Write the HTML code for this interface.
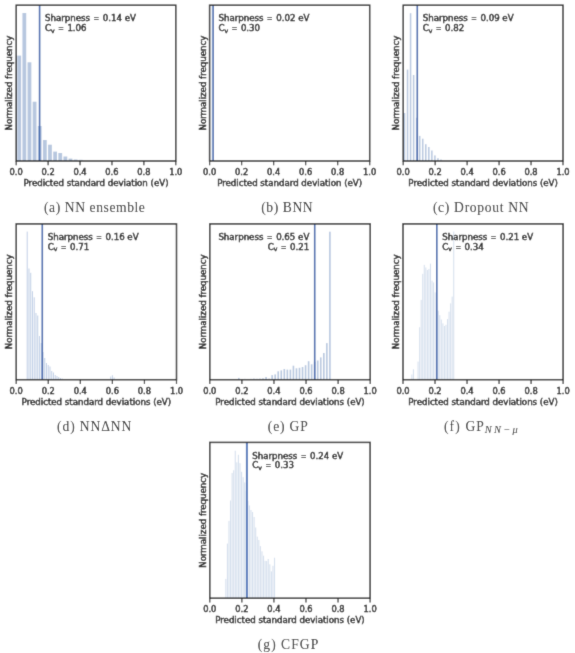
<!DOCTYPE html>
<html><head><meta charset="utf-8"><title>Predicted standard deviation histograms</title>
<style>
html,body{margin:0;padding:0;background:#fff;}
svg{display:block;}
.t{font-family:"DejaVu Sans","Liberation Sans",sans-serif;font-size:8.65px;fill:#111;stroke:#111;stroke-width:0.45px;}
.c{font-family:"Liberation Serif","DejaVu Serif",serif;font-size:13.6px;fill:#151515;}
</style></head><body>
<svg width="575" height="653" viewBox="0 0 575 653">
<defs><filter id="bl" x="0" y="0" width="100%" height="100%"><feConvolveMatrix order="3" kernelMatrix="0.02 0.085 0.02 0.085 0.58 0.085 0.02 0.085 0.02" divisor="1" edgeMode="duplicate" preserveAlpha="false"/></filter></defs>
<g filter="url(#bl)">
<rect width="575" height="653" fill="#fff"/>
<rect x="17.30" y="55.60" width="3.80" height="105.40" fill="#b7c7df"/>
<rect x="22.43" y="13.00" width="3.80" height="148.00" fill="#b7c7df"/>
<rect x="27.56" y="62.30" width="3.80" height="98.70" fill="#b7c7df"/>
<rect x="32.69" y="101.70" width="3.80" height="59.30" fill="#b7c7df"/>
<rect x="37.82" y="126.00" width="3.80" height="35.00" fill="#b7c7df"/>
<rect x="42.95" y="140.00" width="3.80" height="21.00" fill="#b7c7df"/>
<rect x="48.08" y="144.70" width="3.80" height="16.30" fill="#b7c7df"/>
<rect x="53.21" y="151.60" width="3.80" height="9.40" fill="#b7c7df"/>
<rect x="58.34" y="153.00" width="3.80" height="8.00" fill="#b7c7df"/>
<rect x="63.47" y="156.50" width="3.80" height="4.50" fill="#b7c7df"/>
<rect x="68.60" y="158.60" width="3.80" height="2.40" fill="#b7c7df"/>
<rect x="73.73" y="159.50" width="3.80" height="1.50" fill="#b7c7df"/>
<rect x="78.86" y="159.80" width="3.80" height="1.20" fill="#b7c7df"/>
<line x1="39.60" y1="5.20" x2="39.60" y2="161.00" stroke="#3f67ad" stroke-width="1.6"/>
<rect x="16.20" y="5.20" width="159.60" height="155.80" fill="none" stroke="#262626" stroke-width="1.5"/>
<line x1="16.20" y1="161.00" x2="16.20" y2="165.30" stroke="#262626" stroke-width="1.2"/>
<text x="16.20" y="175.00" text-anchor="middle" class="t" style="font-size:8.3px">0.0</text>
<line x1="48.12" y1="161.00" x2="48.12" y2="165.30" stroke="#262626" stroke-width="1.2"/>
<text x="48.12" y="175.00" text-anchor="middle" class="t" style="font-size:8.3px">0.2</text>
<line x1="80.04" y1="161.00" x2="80.04" y2="165.30" stroke="#262626" stroke-width="1.2"/>
<text x="80.04" y="175.00" text-anchor="middle" class="t" style="font-size:8.3px">0.4</text>
<line x1="111.96" y1="161.00" x2="111.96" y2="165.30" stroke="#262626" stroke-width="1.2"/>
<text x="111.96" y="175.00" text-anchor="middle" class="t" style="font-size:8.3px">0.6</text>
<line x1="143.88" y1="161.00" x2="143.88" y2="165.30" stroke="#262626" stroke-width="1.2"/>
<text x="143.88" y="175.00" text-anchor="middle" class="t" style="font-size:8.3px">0.8</text>
<line x1="175.80" y1="161.00" x2="175.80" y2="165.30" stroke="#262626" stroke-width="1.2"/>
<text x="175.80" y="175.00" text-anchor="middle" class="t" style="font-size:8.3px">1.0</text>
<text x="96.00" y="185.80" text-anchor="middle" class="t">Predicted standard deviation (eV)</text>
<text transform="translate(12.30,83.10) rotate(-90)" text-anchor="middle" class="t">Normalized frequency</text>
<text x="45.00" y="21.40" text-anchor="start" class="t">Sharpness <tspan dx="0.85" textLength="5.5" lengthAdjust="spacingAndGlyphs">=</tspan><tspan dx="0.9"> 0.14 eV</tspan></text>
<text x="45.00" y="30.80" text-anchor="start" class="t">C<tspan font-size="6.1" dy="1.9">v</tspan><tspan dy="-1.9"> </tspan><tspan dx="0.85" textLength="5.5" lengthAdjust="spacingAndGlyphs">=</tspan><tspan dx="0.9"> 1.06</tspan></text>
<text x="44.00" y="212.00" textLength="100.90" lengthAdjust="spacing" class="c">(a) NN ensemble</text>

<rect x="210.50" y="5.80" width="1.60" height="155.20" fill="#eef2f8"/>
<line x1="213.10" y1="5.20" x2="213.10" y2="161.00" stroke="#3f67ad" stroke-width="1.6"/>
<rect x="209.60" y="5.20" width="160.10" height="155.80" fill="none" stroke="#262626" stroke-width="1.5"/>
<line x1="209.60" y1="161.00" x2="209.60" y2="165.30" stroke="#262626" stroke-width="1.2"/>
<text x="209.60" y="175.00" text-anchor="middle" class="t" style="font-size:8.3px">0.0</text>
<line x1="241.62" y1="161.00" x2="241.62" y2="165.30" stroke="#262626" stroke-width="1.2"/>
<text x="241.62" y="175.00" text-anchor="middle" class="t" style="font-size:8.3px">0.2</text>
<line x1="273.64" y1="161.00" x2="273.64" y2="165.30" stroke="#262626" stroke-width="1.2"/>
<text x="273.64" y="175.00" text-anchor="middle" class="t" style="font-size:8.3px">0.4</text>
<line x1="305.66" y1="161.00" x2="305.66" y2="165.30" stroke="#262626" stroke-width="1.2"/>
<text x="305.66" y="175.00" text-anchor="middle" class="t" style="font-size:8.3px">0.6</text>
<line x1="337.68" y1="161.00" x2="337.68" y2="165.30" stroke="#262626" stroke-width="1.2"/>
<text x="337.68" y="175.00" text-anchor="middle" class="t" style="font-size:8.3px">0.8</text>
<line x1="369.70" y1="161.00" x2="369.70" y2="165.30" stroke="#262626" stroke-width="1.2"/>
<text x="369.70" y="175.00" text-anchor="middle" class="t" style="font-size:8.3px">1.0</text>
<text x="289.65" y="185.80" text-anchor="middle" class="t">Predicted standard deviation (eV)</text>
<text transform="translate(205.70,83.10) rotate(-90)" text-anchor="middle" class="t">Normalized frequency</text>
<text x="218.50" y="21.40" text-anchor="start" class="t">Sharpness <tspan dx="0.85" textLength="5.5" lengthAdjust="spacingAndGlyphs">=</tspan><tspan dx="0.9"> 0.02 eV</tspan></text>
<text x="218.50" y="30.80" text-anchor="start" class="t">C<tspan font-size="6.1" dy="1.9">v</tspan><tspan dy="-1.9"> </tspan><tspan dx="0.85" textLength="5.5" lengthAdjust="spacingAndGlyphs">=</tspan><tspan dx="0.9"> 0.30</tspan></text>
<text x="261.20" y="212.00" textLength="51.50" lengthAdjust="spacing" class="c">(b) BNN</text>

<rect x="403.75" y="113.00" width="1.50" height="48.00" fill="#b7c7df"/>
<rect x="406.79" y="69.60" width="1.50" height="91.40" fill="#b7c7df"/>
<rect x="409.83" y="13.20" width="1.50" height="147.80" fill="#b7c7df"/>
<rect x="412.87" y="75.00" width="1.50" height="86.00" fill="#b7c7df"/>
<rect x="415.91" y="117.80" width="1.50" height="43.20" fill="#b7c7df"/>
<rect x="418.95" y="135.90" width="1.50" height="25.10" fill="#b7c7df"/>
<rect x="421.99" y="138.70" width="1.50" height="22.30" fill="#b7c7df"/>
<rect x="425.03" y="144.20" width="1.50" height="16.80" fill="#b7c7df"/>
<rect x="428.07" y="147.00" width="1.50" height="14.00" fill="#b7c7df"/>
<rect x="431.11" y="150.50" width="1.50" height="10.50" fill="#b7c7df"/>
<rect x="434.15" y="155.40" width="1.50" height="5.60" fill="#b7c7df"/>
<rect x="437.19" y="158.20" width="1.50" height="2.80" fill="#b7c7df"/>
<rect x="440.23" y="159.50" width="1.50" height="1.50" fill="#b7c7df"/>
<line x1="417.30" y1="5.20" x2="417.30" y2="161.00" stroke="#3f67ad" stroke-width="1.6"/>
<rect x="403.20" y="5.20" width="159.80" height="155.80" fill="none" stroke="#262626" stroke-width="1.5"/>
<line x1="403.20" y1="161.00" x2="403.20" y2="165.30" stroke="#262626" stroke-width="1.2"/>
<text x="403.20" y="175.00" text-anchor="middle" class="t" style="font-size:8.3px">0.0</text>
<line x1="435.16" y1="161.00" x2="435.16" y2="165.30" stroke="#262626" stroke-width="1.2"/>
<text x="435.16" y="175.00" text-anchor="middle" class="t" style="font-size:8.3px">0.2</text>
<line x1="467.12" y1="161.00" x2="467.12" y2="165.30" stroke="#262626" stroke-width="1.2"/>
<text x="467.12" y="175.00" text-anchor="middle" class="t" style="font-size:8.3px">0.4</text>
<line x1="499.08" y1="161.00" x2="499.08" y2="165.30" stroke="#262626" stroke-width="1.2"/>
<text x="499.08" y="175.00" text-anchor="middle" class="t" style="font-size:8.3px">0.6</text>
<line x1="531.04" y1="161.00" x2="531.04" y2="165.30" stroke="#262626" stroke-width="1.2"/>
<text x="531.04" y="175.00" text-anchor="middle" class="t" style="font-size:8.3px">0.8</text>
<line x1="563.00" y1="161.00" x2="563.00" y2="165.30" stroke="#262626" stroke-width="1.2"/>
<text x="563.00" y="175.00" text-anchor="middle" class="t" style="font-size:8.3px">1.0</text>
<text x="483.10" y="185.80" text-anchor="middle" class="t">Predicted standard deviations (eV)</text>
<text transform="translate(399.30,83.10) rotate(-90)" text-anchor="middle" class="t">Normalized frequency</text>
<text x="422.70" y="21.40" text-anchor="start" class="t">Sharpness <tspan dx="0.85" textLength="5.5" lengthAdjust="spacingAndGlyphs">=</tspan><tspan dx="0.9"> 0.09 eV</tspan></text>
<text x="422.70" y="30.80" text-anchor="start" class="t">C<tspan font-size="6.1" dy="1.9">v</tspan><tspan dy="-1.9"> </tspan><tspan dx="0.85" textLength="5.5" lengthAdjust="spacingAndGlyphs">=</tspan><tspan dx="0.9"> 0.82</tspan></text>
<text x="432.90" y="212.00" textLength="95.70" lengthAdjust="spacing" class="c">(c) Dropout NN</text>

<rect x="26.70" y="231.60" width="1.05" height="148.10" fill="#c3d1e7"/>
<rect x="28.45" y="268.50" width="1.05" height="111.20" fill="#c3d1e7"/>
<rect x="30.20" y="272.80" width="1.05" height="106.90" fill="#c3d1e7"/>
<rect x="31.95" y="291.20" width="1.05" height="88.50" fill="#c3d1e7"/>
<rect x="33.70" y="297.30" width="1.05" height="82.40" fill="#c3d1e7"/>
<rect x="35.45" y="313.00" width="1.05" height="66.70" fill="#c3d1e7"/>
<rect x="37.20" y="315.50" width="1.05" height="64.20" fill="#c3d1e7"/>
<rect x="38.95" y="336.00" width="1.05" height="43.70" fill="#c3d1e7"/>
<rect x="40.70" y="343.00" width="1.05" height="36.70" fill="#c3d1e7"/>
<rect x="42.45" y="352.00" width="1.05" height="27.70" fill="#c3d1e7"/>
<rect x="44.20" y="358.00" width="1.05" height="21.70" fill="#c3d1e7"/>
<rect x="45.95" y="363.00" width="1.05" height="16.70" fill="#c3d1e7"/>
<rect x="47.70" y="365.00" width="1.05" height="14.70" fill="#c3d1e7"/>
<rect x="49.45" y="366.50" width="1.05" height="13.20" fill="#c3d1e7"/>
<rect x="51.20" y="371.00" width="1.05" height="8.70" fill="#c3d1e7"/>
<rect x="52.95" y="372.50" width="1.05" height="7.20" fill="#c3d1e7"/>
<rect x="54.70" y="375.00" width="1.05" height="4.70" fill="#c3d1e7"/>
<rect x="56.45" y="376.00" width="1.05" height="3.70" fill="#c3d1e7"/>
<rect x="58.20" y="377.00" width="1.05" height="2.70" fill="#c3d1e7"/>
<rect x="59.95" y="378.00" width="1.05" height="1.70" fill="#c3d1e7"/>
<rect x="61.70" y="378.50" width="1.05" height="1.20" fill="#c3d1e7"/>
<rect x="63.45" y="379.00" width="1.05" height="0.70" fill="#c3d1e7"/>
<rect x="65.20" y="379.20" width="1.05" height="0.50" fill="#c3d1e7"/>
<rect x="110.20" y="376.50" width="1.00" height="3.20" fill="#c3d1e7"/>
<rect x="111.90" y="375.20" width="1.00" height="4.50" fill="#c3d1e7"/>
<rect x="113.60" y="377.50" width="1.00" height="2.20" fill="#c3d1e7"/>
<line x1="42.30" y1="223.90" x2="42.30" y2="379.70" stroke="#3f67ad" stroke-width="1.6"/>
<rect x="16.20" y="223.90" width="160.30" height="155.80" fill="none" stroke="#262626" stroke-width="1.5"/>
<line x1="16.20" y1="379.70" x2="16.20" y2="384.00" stroke="#262626" stroke-width="1.2"/>
<text x="16.20" y="393.70" text-anchor="middle" class="t" style="font-size:8.3px">0.0</text>
<line x1="48.26" y1="379.70" x2="48.26" y2="384.00" stroke="#262626" stroke-width="1.2"/>
<text x="48.26" y="393.70" text-anchor="middle" class="t" style="font-size:8.3px">0.2</text>
<line x1="80.32" y1="379.70" x2="80.32" y2="384.00" stroke="#262626" stroke-width="1.2"/>
<text x="80.32" y="393.70" text-anchor="middle" class="t" style="font-size:8.3px">0.4</text>
<line x1="112.38" y1="379.70" x2="112.38" y2="384.00" stroke="#262626" stroke-width="1.2"/>
<text x="112.38" y="393.70" text-anchor="middle" class="t" style="font-size:8.3px">0.6</text>
<line x1="144.44" y1="379.70" x2="144.44" y2="384.00" stroke="#262626" stroke-width="1.2"/>
<text x="144.44" y="393.70" text-anchor="middle" class="t" style="font-size:8.3px">0.8</text>
<line x1="176.50" y1="379.70" x2="176.50" y2="384.00" stroke="#262626" stroke-width="1.2"/>
<text x="176.50" y="393.70" text-anchor="middle" class="t" style="font-size:8.3px">1.0</text>
<text x="96.35" y="404.50" text-anchor="middle" class="t">Predicted standard deviations (eV)</text>
<text transform="translate(12.30,301.80) rotate(-90)" text-anchor="middle" class="t">Normalized frequency</text>
<text x="47.70" y="240.10" text-anchor="start" class="t">Sharpness <tspan dx="0.85" textLength="5.5" lengthAdjust="spacingAndGlyphs">=</tspan><tspan dx="0.9"> 0.16 eV</tspan></text>
<text x="47.70" y="249.50" text-anchor="start" class="t">C<tspan font-size="6.1" dy="1.9">v</tspan><tspan dy="-1.9"> </tspan><tspan dx="0.85" textLength="5.5" lengthAdjust="spacingAndGlyphs">=</tspan><tspan dx="0.9"> 0.71</tspan></text>
<text x="57.10" y="430.70" textLength="74.30" lengthAdjust="spacing" class="c">(d) NN&#916;NN</text>

<rect x="329.10" y="231.70" width="1.60" height="148.00" fill="#b7c7df"/>
<rect x="326.06" y="343.10" width="1.60" height="36.60" fill="#b7c7df"/>
<rect x="323.02" y="353.00" width="1.60" height="26.70" fill="#b7c7df"/>
<rect x="319.98" y="357.40" width="1.60" height="22.30" fill="#b7c7df"/>
<rect x="316.94" y="360.50" width="1.60" height="19.20" fill="#b7c7df"/>
<rect x="313.90" y="361.70" width="1.60" height="18.00" fill="#b7c7df"/>
<rect x="310.86" y="364.30" width="1.60" height="15.40" fill="#b7c7df"/>
<rect x="307.82" y="361.20" width="1.60" height="18.50" fill="#b7c7df"/>
<rect x="304.78" y="365.20" width="1.60" height="14.50" fill="#b7c7df"/>
<rect x="301.74" y="367.00" width="1.60" height="12.70" fill="#b7c7df"/>
<rect x="298.70" y="367.80" width="1.60" height="11.90" fill="#b7c7df"/>
<rect x="295.66" y="368.30" width="1.60" height="11.40" fill="#b7c7df"/>
<rect x="292.62" y="365.70" width="1.60" height="14.00" fill="#b7c7df"/>
<rect x="289.58" y="369.60" width="1.60" height="10.10" fill="#b7c7df"/>
<rect x="286.54" y="369.60" width="1.60" height="10.10" fill="#b7c7df"/>
<rect x="283.50" y="369.00" width="1.60" height="10.70" fill="#b7c7df"/>
<rect x="280.46" y="370.40" width="1.60" height="9.30" fill="#b7c7df"/>
<rect x="277.42" y="371.30" width="1.60" height="8.40" fill="#b7c7df"/>
<rect x="274.38" y="374.40" width="1.60" height="5.30" fill="#b7c7df"/>
<rect x="271.34" y="375.10" width="1.60" height="4.60" fill="#b7c7df"/>
<rect x="268.30" y="378.60" width="1.60" height="1.10" fill="#b7c7df"/>
<rect x="265.26" y="377.00" width="1.60" height="2.70" fill="#b7c7df"/>
<rect x="262.22" y="378.30" width="1.60" height="1.40" fill="#b7c7df"/>
<rect x="259.18" y="378.60" width="1.60" height="1.10" fill="#b7c7df"/>
<rect x="256.14" y="378.80" width="1.60" height="0.90" fill="#b7c7df"/>
<rect x="253.10" y="378.60" width="1.60" height="1.10" fill="#b7c7df"/>
<rect x="250.06" y="378.90" width="1.60" height="0.80" fill="#b7c7df"/>
<rect x="247.02" y="379.00" width="1.60" height="0.70" fill="#b7c7df"/>
<rect x="243.98" y="378.90" width="1.60" height="0.80" fill="#b7c7df"/>
<rect x="238.00" y="377.90" width="1.60" height="1.80" fill="#b7c7df"/>
<line x1="314.70" y1="223.90" x2="314.70" y2="379.70" stroke="#3f67ad" stroke-width="1.6"/>
<rect x="209.80" y="223.90" width="160.40" height="155.80" fill="none" stroke="#262626" stroke-width="1.5"/>
<line x1="209.80" y1="379.70" x2="209.80" y2="384.00" stroke="#262626" stroke-width="1.2"/>
<text x="209.80" y="393.70" text-anchor="middle" class="t" style="font-size:8.3px">0.0</text>
<line x1="241.88" y1="379.70" x2="241.88" y2="384.00" stroke="#262626" stroke-width="1.2"/>
<text x="241.88" y="393.70" text-anchor="middle" class="t" style="font-size:8.3px">0.2</text>
<line x1="273.96" y1="379.70" x2="273.96" y2="384.00" stroke="#262626" stroke-width="1.2"/>
<text x="273.96" y="393.70" text-anchor="middle" class="t" style="font-size:8.3px">0.4</text>
<line x1="306.04" y1="379.70" x2="306.04" y2="384.00" stroke="#262626" stroke-width="1.2"/>
<text x="306.04" y="393.70" text-anchor="middle" class="t" style="font-size:8.3px">0.6</text>
<line x1="338.12" y1="379.70" x2="338.12" y2="384.00" stroke="#262626" stroke-width="1.2"/>
<text x="338.12" y="393.70" text-anchor="middle" class="t" style="font-size:8.3px">0.8</text>
<line x1="370.20" y1="379.70" x2="370.20" y2="384.00" stroke="#262626" stroke-width="1.2"/>
<text x="370.20" y="393.70" text-anchor="middle" class="t" style="font-size:8.3px">1.0</text>
<text x="290.00" y="404.50" text-anchor="middle" class="t">Predicted standard deviations (eV)</text>
<text transform="translate(205.90,301.80) rotate(-90)" text-anchor="middle" class="t">Normalized frequency</text>
<text x="309.30" y="240.10" text-anchor="end" class="t">Sharpness <tspan dx="0.85" textLength="5.5" lengthAdjust="spacingAndGlyphs">=</tspan><tspan dx="0.9"> 0.65 eV</tspan></text>
<text x="309.30" y="249.50" text-anchor="end" class="t">C<tspan font-size="6.1" dy="1.9">v</tspan><tspan dy="-1.9"> </tspan><tspan dx="0.85" textLength="5.5" lengthAdjust="spacingAndGlyphs">=</tspan><tspan dx="0.9"> 0.21</tspan></text>
<text x="267.80" y="430.70" textLength="39.90" lengthAdjust="spacing" class="c">(e) GP</text>

<rect x="409.80" y="379.16" width="1.05" height="0.54" fill="#d6e0ee"/>
<rect x="411.35" y="374.50" width="1.05" height="5.20" fill="#d6e0ee"/>
<rect x="412.90" y="369.27" width="1.05" height="10.43" fill="#d6e0ee"/>
<rect x="414.45" y="379.32" width="1.05" height="0.38" fill="#d6e0ee"/>
<rect x="417.55" y="361.57" width="1.05" height="18.13" fill="#d6e0ee"/>
<rect x="419.10" y="327.24" width="1.05" height="52.46" fill="#d6e0ee"/>
<rect x="420.65" y="299.88" width="1.05" height="79.82" fill="#d6e0ee"/>
<rect x="422.20" y="273.84" width="1.05" height="105.86" fill="#d6e0ee"/>
<rect x="423.75" y="264.87" width="1.05" height="114.83" fill="#d6e0ee"/>
<rect x="425.30" y="267.50" width="1.05" height="112.20" fill="#d6e0ee"/>
<rect x="426.85" y="270.00" width="1.05" height="109.70" fill="#d6e0ee"/>
<rect x="428.40" y="269.00" width="1.05" height="110.70" fill="#d6e0ee"/>
<rect x="429.95" y="263.64" width="1.05" height="116.06" fill="#d6e0ee"/>
<rect x="431.50" y="280.62" width="1.05" height="99.08" fill="#d6e0ee"/>
<rect x="433.05" y="282.44" width="1.05" height="97.26" fill="#d6e0ee"/>
<rect x="434.60" y="292.40" width="1.05" height="87.30" fill="#d6e0ee"/>
<rect x="436.15" y="304.75" width="1.05" height="74.95" fill="#d6e0ee"/>
<rect x="437.70" y="310.64" width="1.05" height="69.06" fill="#d6e0ee"/>
<rect x="439.25" y="315.19" width="1.05" height="64.51" fill="#d6e0ee"/>
<rect x="440.80" y="319.50" width="1.05" height="60.20" fill="#d6e0ee"/>
<rect x="442.35" y="323.41" width="1.05" height="56.29" fill="#d6e0ee"/>
<rect x="443.90" y="325.97" width="1.05" height="53.73" fill="#d6e0ee"/>
<rect x="445.45" y="324.77" width="1.05" height="54.93" fill="#d6e0ee"/>
<rect x="447.00" y="319.05" width="1.05" height="60.65" fill="#d6e0ee"/>
<rect x="448.55" y="311.66" width="1.05" height="68.04" fill="#d6e0ee"/>
<rect x="450.10" y="303.37" width="1.05" height="76.33" fill="#d6e0ee"/>
<rect x="451.65" y="296.59" width="1.05" height="83.11" fill="#d6e0ee"/>
<rect x="453.20" y="231.60" width="1.05" height="148.10" fill="#d6e0ee"/>
<line x1="436.80" y1="223.90" x2="436.80" y2="379.70" stroke="#3f67ad" stroke-width="1.6"/>
<rect x="403.00" y="223.90" width="160.10" height="155.80" fill="none" stroke="#262626" stroke-width="1.5"/>
<line x1="403.00" y1="379.70" x2="403.00" y2="384.00" stroke="#262626" stroke-width="1.2"/>
<text x="403.00" y="393.70" text-anchor="middle" class="t" style="font-size:8.3px">0.0</text>
<line x1="435.02" y1="379.70" x2="435.02" y2="384.00" stroke="#262626" stroke-width="1.2"/>
<text x="435.02" y="393.70" text-anchor="middle" class="t" style="font-size:8.3px">0.2</text>
<line x1="467.04" y1="379.70" x2="467.04" y2="384.00" stroke="#262626" stroke-width="1.2"/>
<text x="467.04" y="393.70" text-anchor="middle" class="t" style="font-size:8.3px">0.4</text>
<line x1="499.06" y1="379.70" x2="499.06" y2="384.00" stroke="#262626" stroke-width="1.2"/>
<text x="499.06" y="393.70" text-anchor="middle" class="t" style="font-size:8.3px">0.6</text>
<line x1="531.08" y1="379.70" x2="531.08" y2="384.00" stroke="#262626" stroke-width="1.2"/>
<text x="531.08" y="393.70" text-anchor="middle" class="t" style="font-size:8.3px">0.8</text>
<line x1="563.10" y1="379.70" x2="563.10" y2="384.00" stroke="#262626" stroke-width="1.2"/>
<text x="563.10" y="393.70" text-anchor="middle" class="t" style="font-size:8.3px">1.0</text>
<text x="483.05" y="404.50" text-anchor="middle" class="t">Predicted standard deviations (eV)</text>
<text transform="translate(399.10,301.80) rotate(-90)" text-anchor="middle" class="t">Normalized frequency</text>
<text x="442.20" y="240.10" text-anchor="start" class="t">Sharpness <tspan dx="0.85" textLength="5.5" lengthAdjust="spacingAndGlyphs">=</tspan><tspan dx="0.9"> 0.21 eV</tspan></text>
<text x="442.20" y="249.50" text-anchor="start" class="t">C<tspan font-size="6.1" dy="1.9">v</tspan><tspan dy="-1.9"> </tspan><tspan dx="0.85" textLength="5.5" lengthAdjust="spacingAndGlyphs">=</tspan><tspan dx="0.9"> 0.34</tspan></text>
<text x="443.90" y="430.70" textLength="40.00" lengthAdjust="spacing" class="c">(f) GP</text>
<text x="484.8" y="432.9" textLength="33" lengthAdjust="spacing" class="c" style="font-size:10.4px;font-style:italic">NN&#8722;&#956;</text>
<rect x="225.30" y="578.90" width="1.10" height="19.30" fill="#d6e0ee"/>
<rect x="226.87" y="543.58" width="1.10" height="54.62" fill="#d6e0ee"/>
<rect x="228.44" y="520.86" width="1.10" height="77.34" fill="#d6e0ee"/>
<rect x="230.01" y="500.52" width="1.10" height="97.68" fill="#d6e0ee"/>
<rect x="231.58" y="472.95" width="1.10" height="125.25" fill="#d6e0ee"/>
<rect x="233.15" y="470.28" width="1.10" height="127.93" fill="#d6e0ee"/>
<rect x="234.72" y="450.75" width="1.10" height="147.45" fill="#d6e0ee"/>
<rect x="236.29" y="462.33" width="1.10" height="135.87" fill="#d6e0ee"/>
<rect x="237.86" y="454.80" width="1.10" height="143.40" fill="#d6e0ee"/>
<rect x="239.43" y="463.16" width="1.10" height="135.04" fill="#d6e0ee"/>
<rect x="241.00" y="471.80" width="1.10" height="126.40" fill="#d6e0ee"/>
<rect x="242.57" y="477.20" width="1.10" height="121.00" fill="#d6e0ee"/>
<rect x="244.14" y="482.46" width="1.10" height="115.74" fill="#d6e0ee"/>
<rect x="245.71" y="490.79" width="1.10" height="107.41" fill="#d6e0ee"/>
<rect x="247.28" y="500.82" width="1.10" height="97.38" fill="#d6e0ee"/>
<rect x="248.85" y="505.44" width="1.10" height="92.76" fill="#d6e0ee"/>
<rect x="250.42" y="510.02" width="1.10" height="88.18" fill="#d6e0ee"/>
<rect x="251.99" y="511.99" width="1.10" height="86.21" fill="#d6e0ee"/>
<rect x="253.56" y="517.02" width="1.10" height="81.18" fill="#d6e0ee"/>
<rect x="255.13" y="527.49" width="1.10" height="70.71" fill="#d6e0ee"/>
<rect x="256.70" y="536.63" width="1.10" height="61.57" fill="#d6e0ee"/>
<rect x="258.27" y="539.97" width="1.10" height="58.23" fill="#d6e0ee"/>
<rect x="259.84" y="546.12" width="1.10" height="52.08" fill="#d6e0ee"/>
<rect x="261.41" y="551.32" width="1.10" height="46.88" fill="#d6e0ee"/>
<rect x="262.98" y="555.66" width="1.10" height="42.54" fill="#d6e0ee"/>
<rect x="264.55" y="560.76" width="1.10" height="37.44" fill="#d6e0ee"/>
<rect x="266.12" y="560.95" width="1.10" height="37.25" fill="#d6e0ee"/>
<rect x="267.69" y="558.99" width="1.10" height="39.21" fill="#d6e0ee"/>
<rect x="269.26" y="564.31" width="1.10" height="33.89" fill="#d6e0ee"/>
<rect x="270.83" y="571.35" width="1.10" height="26.85" fill="#d6e0ee"/>
<rect x="272.40" y="565.76" width="1.10" height="32.44" fill="#d6e0ee"/>
<rect x="273.97" y="557.70" width="1.10" height="40.50" fill="#d6e0ee"/>
<line x1="246.90" y1="442.40" x2="246.90" y2="598.20" stroke="#5078bb" stroke-width="2.0"/>
<rect x="209.80" y="442.40" width="160.30" height="155.80" fill="none" stroke="#262626" stroke-width="1.5"/>
<line x1="209.80" y1="598.20" x2="209.80" y2="602.50" stroke="#262626" stroke-width="1.2"/>
<text x="209.80" y="612.20" text-anchor="middle" class="t" style="font-size:8.3px">0.0</text>
<line x1="241.86" y1="598.20" x2="241.86" y2="602.50" stroke="#262626" stroke-width="1.2"/>
<text x="241.86" y="612.20" text-anchor="middle" class="t" style="font-size:8.3px">0.2</text>
<line x1="273.92" y1="598.20" x2="273.92" y2="602.50" stroke="#262626" stroke-width="1.2"/>
<text x="273.92" y="612.20" text-anchor="middle" class="t" style="font-size:8.3px">0.4</text>
<line x1="305.98" y1="598.20" x2="305.98" y2="602.50" stroke="#262626" stroke-width="1.2"/>
<text x="305.98" y="612.20" text-anchor="middle" class="t" style="font-size:8.3px">0.6</text>
<line x1="338.04" y1="598.20" x2="338.04" y2="602.50" stroke="#262626" stroke-width="1.2"/>
<text x="338.04" y="612.20" text-anchor="middle" class="t" style="font-size:8.3px">0.8</text>
<line x1="370.10" y1="598.20" x2="370.10" y2="602.50" stroke="#262626" stroke-width="1.2"/>
<text x="370.10" y="612.20" text-anchor="middle" class="t" style="font-size:8.3px">1.0</text>
<text x="289.95" y="623.00" text-anchor="middle" class="t">Predicted standard deviations (eV)</text>
<text transform="translate(205.90,520.30) rotate(-90)" text-anchor="middle" class="t">Normalized frequency</text>
<text x="252.30" y="458.60" text-anchor="start" class="t">Sharpness <tspan dx="0.85" textLength="5.5" lengthAdjust="spacingAndGlyphs">=</tspan><tspan dx="0.9"> 0.24 eV</tspan></text>
<text x="252.30" y="468.00" text-anchor="start" class="t">C<tspan font-size="6.1" dy="1.9">v</tspan><tspan dy="-1.9"> </tspan><tspan dx="0.85" textLength="5.5" lengthAdjust="spacingAndGlyphs">=</tspan><tspan dx="0.9"> 0.33</tspan></text>
<text x="257.80" y="649.20" textLength="60.40" lengthAdjust="spacing" class="c">(g) CFGP</text>

</g>
</svg>
</body></html>
